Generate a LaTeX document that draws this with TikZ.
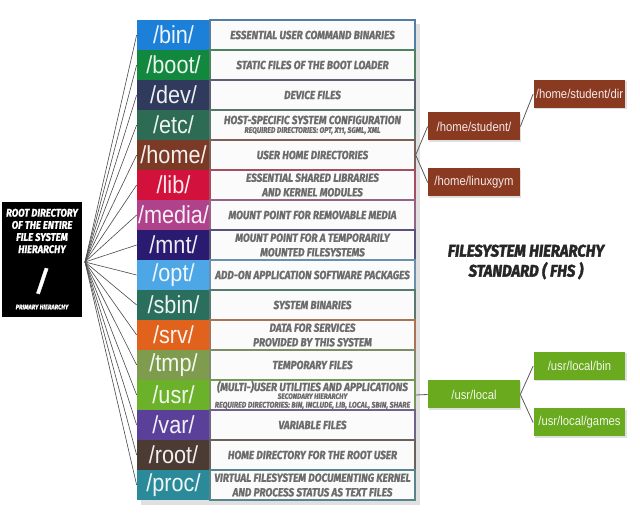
\documentclass[tikz,border=0pt]{standalone}
\usepackage{fontspec}
\setmainfont{Liberation Sans}
\newfontfamily\dirfont[FakeStretch=0.88]{Liberation Sans}
\newfontfamily\descfont[FakeStretch=0.85, BoldItalicFeatures={FakeBold=1.2}]{Fira Sans}
\newfontfamily\heavyfont[FakeStretch=0.88, BoldItalicFeatures={FakeBold=2.2}]{Fira Sans}
\usetikzlibrary{shadows}

\definecolor{cbin}{HTML}{1C7FD8}
\definecolor{cboot}{HTML}{12873E}
\definecolor{cdev}{HTML}{303A5C}
\definecolor{cetc}{HTML}{2D6B55}
\definecolor{chome}{HTML}{7B3A26}
\definecolor{clib}{HTML}{D2123C}
\definecolor{cmedia}{HTML}{B0428C}
\definecolor{cmnt}{HTML}{2B1B70}
\definecolor{copt}{HTML}{4DA6E6}
\definecolor{csbin}{HTML}{2A6E5E}
\definecolor{csrv}{HTML}{E0621C}
\definecolor{ctmp}{HTML}{7E9B4E}
\definecolor{cusr}{HTML}{6CB12A}
\definecolor{cvar}{HTML}{5B4099}
\definecolor{croot}{HTML}{4B3B32}
\definecolor{cproc}{HTML}{2A8A9A}
\definecolor{chomesub}{HTML}{8B3A22}
\definecolor{cusrsub}{HTML}{6AAA1E}

\newcommand{\reqtext}{\fontsize{4.6}{5}\selectfont}

\tikzset{
  dirbox/.style={fill=#1, text=#1!8!white, minimum width=1.46cm, minimum height=0.6cm,
    inner sep=0pt, font=\dirfont\fontsize{14}{14}\selectfont},
  descbox/.style={draw=#1!45!gray, line width=0.8pt, fill=white!97!gray, minimum width=4.1cm,
    minimum height=0.6cm, inner sep=0pt, align=center, text=gray!85!black,
    font=\descfont\bfseries\itshape\fontsize{6.7}{8.3}\selectfont},
  sidebox/.style={fill=#1, text=#1!10!white, minimum width=1.84cm, minimum height=0.56cm,
    inner sep=0pt, drop shadow={opacity=0.25, shadow xshift=0.6pt, shadow yshift=-0.6pt},
    font=\dirfont\fontsize{7.3}{8}\selectfont},
  roottext/.style={text=white, align=center, inner sep=0pt,
    font=\descfont\bfseries\itshape\fontsize{6.3}{6.9}\selectfont},
  fanline/.style={draw=black!70, line width=0.35pt},
  branch/.style={draw=black!65, line width=0.45pt}
}

\begin{document}
\begin{tikzpicture}[x=0.02cm, y=-0.02cm]
		\useasboundingbox (0,0) rectangle (640,519);
		\fill[white] (0,0) rectangle (640,519);
		\fill[black, opacity=.12] (141,24) rectangle (420,505);

		% root of the tree
		\node[fill=black, minimum width=1.6cm, minimum height=2.3cm, inner sep=0pt] (fsroot) at (42,259.5) {};
		\node[roottext] (roothead) at (42,231) {ROOT DIRECTORY\\OF THE ENTIRE\\FILE SYSTEM\\HIERARCHY};
		\node[roottext, font=\descfont\bfseries\itshape\fontsize{16}{16}\selectfont] (rootslash) at (42,281) {/};
		\node[roottext, font=\descfont\bfseries\itshape\fontsize{3.8}{4}\selectfont] (rootprim) at (42,307) {PRIMARY HIERARCHY};
		\coordinate (fsfan) at (85,262);

		% directories
		\node[dirbox=cbin] (bin) at (173.5,35) {/bin/};
		\node[descbox=cbin] (bininfo) at (312.5,35) {ESSENTIAL USER COMMAND BINARIES};
		\node[dirbox=cboot] (boot) at (173.5,65) {/boot/};
		\node[descbox=cboot] (bootinfo) at (312.5,65) {STATIC FILES OF THE BOOT LOADER};
		\node[dirbox=cdev] (dev) at (173.5,95) {/dev/};
		\node[descbox=cdev] (devinfo) at (312.5,95) {DEVICE FILES};
		\node[dirbox=cetc] (etc) at (173.5,125) {/etc/};
		\node[descbox=cetc] (etcinfo) at (312.5,125) {HOST-SPECIFIC SYSTEM CONFIGURATION\\[-3.3pt]\reqtext REQUIRED DIRECTORIES: OPT, X11, SGML, XML};
		\node[dirbox=chome] (home) at (173.5,155) {/home/};
		\node[descbox=chome] (homeinfo) at (312.5,155) {USER HOME DIRECTORIES};
		\node[dirbox=clib] (lib) at (173.5,185) {/lib/};
		\node[descbox=clib] (libinfo) at (312.5,185) {ESSENTIAL SHARED LIBRARIES\\AND KERNEL MODULES};
		\node[dirbox=cmedia] (media) at (173.5,215) {/media/};
		\node[descbox=cmedia] (mediainfo) at (312.5,215) {MOUNT POINT FOR REMOVABLE MEDIA};
		\node[dirbox=cmnt] (mnt) at (173.5,245) {/mnt/};
		\node[descbox=cmnt] (mntinfo) at (312.5,245) {MOUNT POINT FOR A TEMPORARILY\\MOUNTED FILESYSTEMS};
		\node[dirbox=copt] (opt) at (173.5,275) {/opt/};
		\node[descbox=copt] (optinfo) at (312.5,275) {ADD-ON APPLICATION SOFTWARE PACKAGES};
		\node[dirbox=csbin] (sbin) at (173.5,305) {/sbin/};
		\node[descbox=csbin] (sbininfo) at (312.5,305) {SYSTEM BINARIES};
		\node[dirbox=csrv] (srv) at (173.5,335) {/srv/};
		\node[descbox=csrv] (srvinfo) at (312.5,335) {DATA FOR SERVICES\\PROVIDED BY THIS SYSTEM};
		\node[dirbox=ctmp] (tmp) at (173.5,365) {/tmp/};
		\node[descbox=ctmp] (tmpinfo) at (312.5,365) {TEMPORARY FILES};
		\node[dirbox=cusr] (usr) at (173.5,395) {/usr/};
		\node[descbox=cusr] (usrinfo) at (312.5,395) {(MULTI-)USER UTILITIES AND APPLICATIONS\\[-3.8pt]{\fontsize{4.4}{5}\selectfont SECONDARY HIERARCHY}\\[-3.3pt]{\fontsize{4.7}{5}\selectfont REQUIRED DIRECTORIES: BIN, INCLUDE, LIB, LOCAL, SBIN, SHARE}};
		\node[dirbox=cvar] (var) at (173.5,425) {/var/};
		\node[descbox=cvar] (varinfo) at (312.5,425) {VARIABLE FILES};
		\node[dirbox=croot] (root) at (173.5,455) {/root/};
		\node[descbox=croot] (rootinfo) at (312.5,455) {HOME DIRECTORY FOR THE ROOT USER};
		\node[dirbox=cproc] (proc) at (173.5,485) {/proc/};
		\node[descbox=cproc] (procinfo) at (312.5,485) {VIRTUAL FILESYSTEM DOCUMENTING KERNEL\\AND PROCESS STATUS AS TEXT FILES};

		\foreach \d in {bin,boot,dev,etc,home,lib,media,mnt,opt,sbin,srv,tmp,usr,var,root,proc}
		  \draw[fanline] (fsfan) -- (\d.west);

		% sub directories
		\node[sidebox=chomesub] (student) at (474,126.5) {/home/student/};
		\node[sidebox=chomesub] (linuxgym) at (474,182.5) {/home/linuxgym};
		\node[sidebox=chomesub] (studentdir) at (579.5,94) {/home/student/dir};
		\node[sidebox=cusrsub] (usrlocal) at (474,394.5) {/usr/local};
		\node[sidebox=cusrsub] (localbin) at (579.5,366) {/usr/local/bin};
		\node[sidebox=cusrsub] (localgames) at (579.5,422.5) {/usr/local/games};

		\draw[branch] (homeinfo.east) -- (student.west);
		\draw[branch] (homeinfo.east) -- (linuxgym.west);
		\draw[branch] (student.east) -- (studentdir.west);
		\draw[branch] (usrinfo.east) -- (usrlocal.west);
		\draw[branch] (usrlocal.east) -- (localbin.west);
		\draw[branch] (usrlocal.east) -- (localgames.west);

		\node[text=black!85, align=center, font=\heavyfont\bfseries\itshape\fontsize{9.6}{11.4}\selectfont] (fhs) at (526,262) {FILESYSTEM HIERARCHY\\STANDARD ( FHS )};
\end{tikzpicture}
\end{document}
